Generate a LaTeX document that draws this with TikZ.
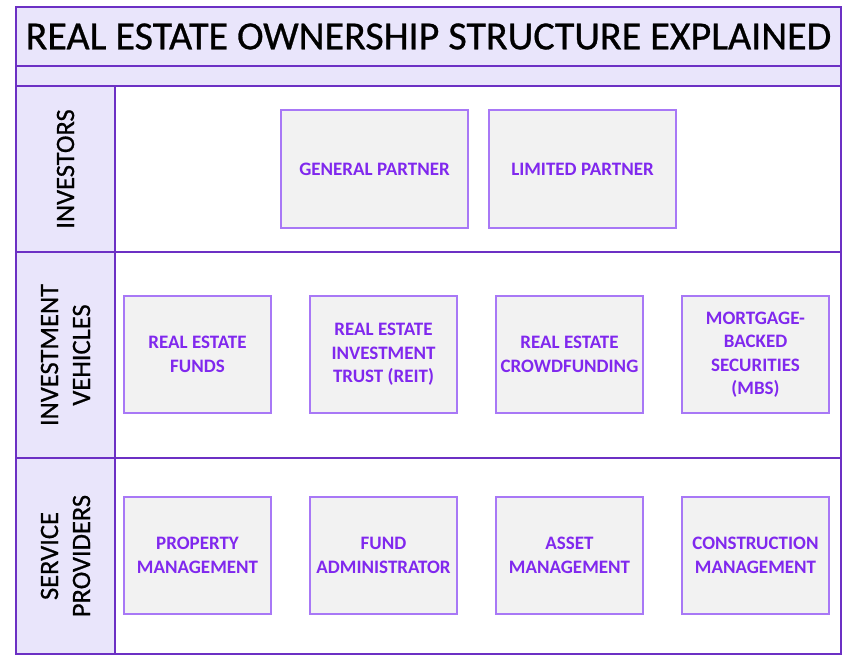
\documentclass[tikz,border=0pt]{standalone}
\usepackage{fontspec}
\setmainfont{Carlito}
\newfontface\heavyface[FakeBold=0.7]{Carlito}
\usetikzlibrary{positioning}
\definecolor{frameline}{RGB}{108,48,196}
\definecolor{bandfill}{RGB}{233,229,251}
\definecolor{boxline}{RGB}{168,120,246}
\definecolor{boxfill}{RGB}{242,242,242}
\definecolor{boxtext}{RGB}{128,40,238}
\tikzset{
  band/.style={draw=frameline, line width=1.6pt, fill=bandfill, inner sep=0pt, outer sep=0pt, anchor=north west},
  lane/.style={draw=frameline, line width=1.6pt, fill=white, inner sep=0pt, outer sep=0pt, anchor=north west},
  entity/.style={draw=boxline, line width=1.3pt, fill=boxfill, text=boxtext, align=center,
    font=\bfseries\fontsize{19}{23.5}\selectfont, minimum width=147pt, minimum height=117pt,
    inner sep=1pt, outer sep=0pt},
  lanelabel/.style={rotate=90, align=center, font=\heavyface\fontsize{26.5}{32}\selectfont}
}
\begin{document}
\begin{tikzpicture}[x=1pt,y=-1pt]
    \useasboundingbox (0,0) rectangle (858,656);
    % header
    \node[band, minimum width=825pt, minimum height=59pt] (title) at (16,7) {};
    \node[font=\heavyface\fontsize{40}{48}\selectfont] at (title.center) {REAL ESTATE OWNERSHIP STRUCTURE EXPLAINED};
    \node[band, minimum width=825pt, minimum height=20pt] (subband) at (16,66) {};
    % lanes
    \node[band, minimum width=99pt, minimum height=166pt] (invcell) at (16,86) {};
    \node[lane, minimum width=726pt, minimum height=166pt] (invlane) at (115,86) {};
    \node[band, minimum width=99pt, minimum height=206pt] (vehcell) at (16,252) {};
    \node[lane, minimum width=726pt, minimum height=206pt] (vehlane) at (115,252) {};
    \node[band, minimum width=99pt, minimum height=196pt] (srvcell) at (16,458) {};
    \node[lane, minimum width=726pt, minimum height=196pt] (srvlane) at (115,458) {};
    \node[lanelabel] (invlabel) at (invcell.center) {INVESTORS};
    \node[lanelabel] (vehlabel) at (vehcell.center) {INVESTMENT\\VEHICLES};
    \node[lanelabel] (srvlabel) at (srvcell.center) {SERVICE\\PROVIDERS};
    % investors
    \node[entity, minimum width=187pt, minimum height=118pt] (gp) at (374.5,169) {GENERAL PARTNER};
    \node[entity, minimum width=187pt, minimum height=118pt, right=21pt of gp] (lp) {LIMITED PARTNER};
    % investment vehicles
    \node[entity] (funds) at (197.5,354.5) {REAL ESTATE\\FUNDS};
    \node[entity, right=39pt of funds] (reit) {REAL ESTATE\\INVESTMENT\\TRUST (REIT)};
    \node[entity, right=39pt of reit] (crowd) {REAL ESTATE\\CROWDFUNDING};
    \node[entity, right=39pt of crowd] (mbs) {MORTGAGE-\\BACKED\\SECURITIES\\(MBS)};
    % service providers
    \node[entity, below=84pt of funds] (propman) {PROPERTY\\MANAGEMENT};
    \node[entity, below=84pt of reit] (fundadmin) {FUND\\ADMINISTRATOR};
    \node[entity, below=84pt of crowd] (assetman) {ASSET\\MANAGEMENT};
    \node[entity, below=84pt of mbs] (constman) {CONSTRUCTION\\MANAGEMENT};
\end{tikzpicture}
\end{document}
